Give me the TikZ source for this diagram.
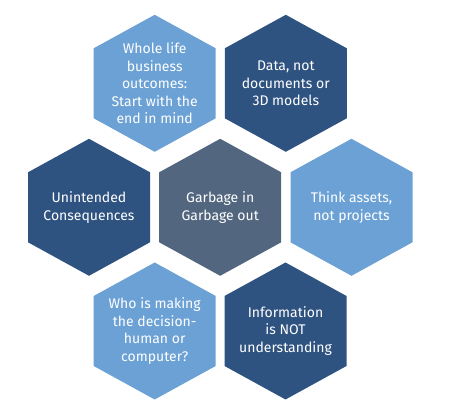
\documentclass[tikz,border=0pt]{standalone}
\usepackage{fontspec}
\setmainfont{Fira Sans}
\definecolor{hexlight}{HTML}{6BA1D4}
\definecolor{hexdark}{HTML}{2F5381}
\definecolor{hexmid}{HTML}{52677F}
\newcommand{\hexcell}[5]{%
  \fill[#4] (#2,#3) ++(0,68.5) -- ++(61,-33.5) -- ++(0,-70) -- ++(-61,-33.5) -- ++(-61,33.5) -- ++(0,70) -- cycle;
  \node[hextext] (#1) at (#2,#3) {#5};
}
\begin{document}
\begin{tikzpicture}[x=1pt,y=1pt,
  hextext/.style={text=white, align=center, font=\fontsize{14}{17.6}\selectfont, inner sep=0pt}]
\useasboundingbox (0,0) rectangle (450,417);
\hexcell{tl}{154.7}{333.7}{hexlight}{Whole life\\business\\outcomes:\\Start with the\\end in mind}
\hexcell{tr}{285.8}{333.7}{hexdark}{Data, not\\documents or\\3D models}
\hexcell{ml}{89}{209.7}{hexdark}{Unintended\\Consequences}
\hexcell{mc}{220.2}{209.7}{hexmid}{Garbage in\\Garbage out}
\hexcell{mr}{351.5}{209.7}{hexlight}{Think assets,\\not projects}
\hexcell{bl}{154.7}{86}{hexlight}{Who is making\\the decision-\\human or\\computer?}
\hexcell{br}{285.5}{86}{hexdark}{Information\\is NOT\\understanding}
\end{tikzpicture}
\end{document}
